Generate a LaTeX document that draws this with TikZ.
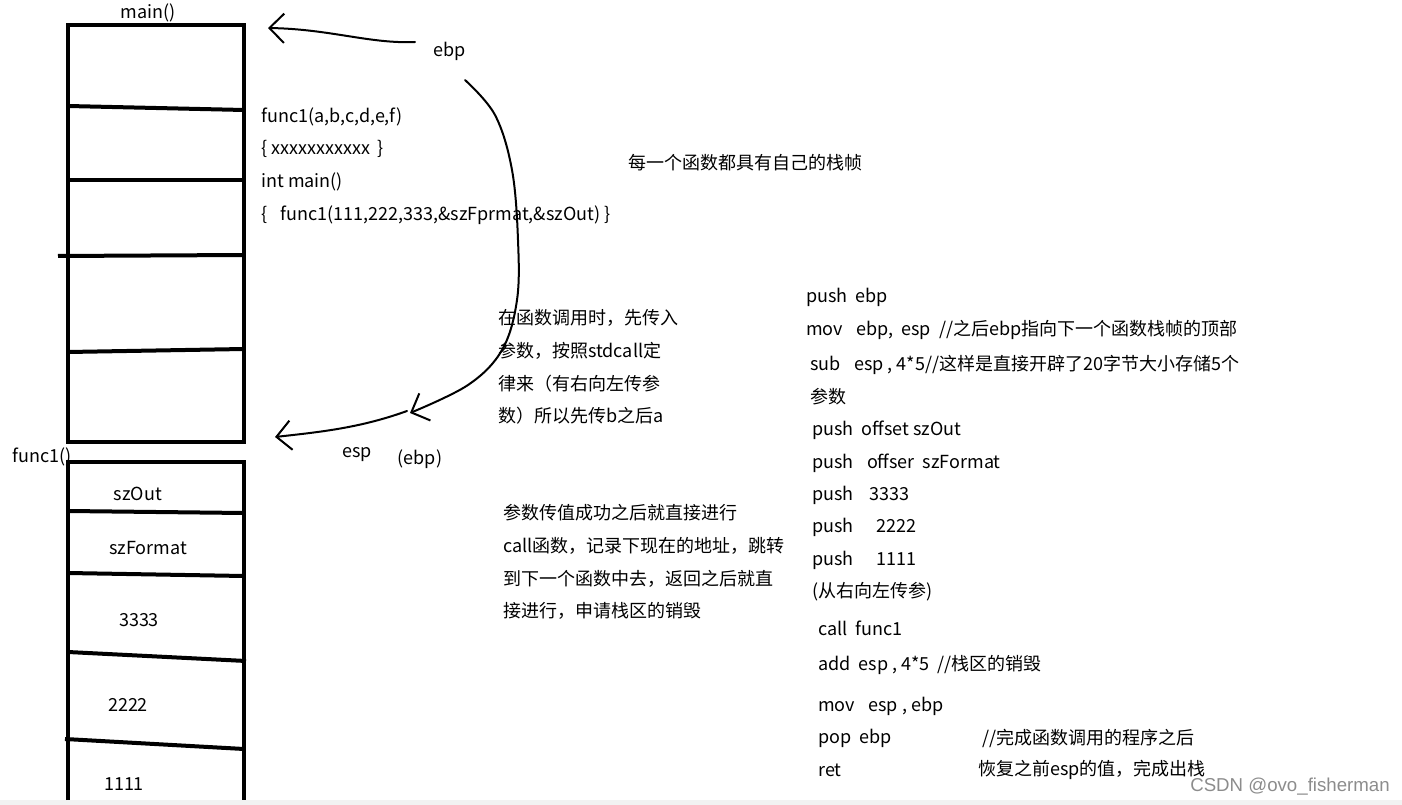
\documentclass[tikz,border=0pt]{standalone}
\usepackage{fontspec}
\setmainfont{Noto Sans CJK SC}
\newfontfamily\wmfont{Liberation Sans}
\usetikzlibrary{arrows.meta}
\newcommand\gapx[1]{\hspace*{#1pt}}
\tikzset{
  frame/.style={line width=3pt},
  txt/.style={anchor=west, inner sep=0pt, font=\fontsize{13.5}{15}\selectfont},
  para/.style={txt, align=left, font=\fontsize{13.5}{24.6}\selectfont},
  pen/.style={line width=1.5pt, line cap=round},
  hand/.style={pen, -{Straight Barb[length=11pt, width=22pt, line width=1.5pt]}},
}
\begin{document}
\begin{tikzpicture}[x=0.75pt, y=-0.75pt]
\useasboundingbox (0,0) rectangle (1402,805);
\fill[black!5] (0,800) rectangle (1402,805);

\node[txt, anchor=center] (mainlbl) at (148,13) {main()};
\node[txt, anchor=center] (funclbl) at (42,457) {func1()};

\draw[frame] (68,25) rectangle (244,442);
\draw[frame] (68,106) -- (244,110);
\draw[frame] (68,180) -- (244,180);
\draw[frame] (58,256) -- (244,255);
\draw[frame] (68,352) -- (244,349);

\draw[frame] (68,800) |- (244,462) -- (244,800);
\draw[frame] (68,511) -- (244,513);
\draw[frame] (68,573) -- (244,576);
\draw[frame] (68,652) -- (246,661);
\draw[frame] (65,739) -- (244,749);

\node[txt, anchor=center] (szout) at (138,494) {szOut};
\node[txt, anchor=center] (szfmt) at (148,548) {szFormat};
\node[txt, anchor=center] (v3) at (139,620) {3333};
\node[txt, anchor=center] (v2) at (128,705) {2222};
\node[txt, anchor=center] (v1) at (124,784) {1111};

\node[txt] (c1) at (261,117) {func1(a,b,c,d,e,f)};
\node[txt] (c2) at (261,149) {\{ xxxxxxxxxxx\gapx{6}\}};
\node[txt] (c3) at (261,182) {int main()};
\node[txt] (c4) at (261,215) {\{\gapx{10}func1(111,222,333,\&szFprmat,\&szOut) \}};

\node[txt, anchor=center] (ebp) at (450,51) {ebp};
\node[txt, anchor=center] (esp) at (357,455) {esp};
\node[txt, anchor=center] (ebp2) at (420,459) {(ebp)};

\coordinate (mainTop) at (268,28);
\coordinate (espTop) at (275,437);
\coordinate (newTop) at (410,413);

\draw[hand] ([shift={(-35,-9)}]ebp.center) .. controls (370,44) and (330,29) .. (mainTop);
\draw[hand] plot[smooth, tension=0.6] coordinates {([shift={(15,29)}]ebp.center) (495,115) (512,170) (518,240) (517,300) (502,350) (468,385) (newTop)};
\draw[hand] ([shift={(-3,-2)}]newTop) .. controls (360,428) and (320,432) .. (espTop);

\node[para] (note1) at (498,367) {在函数调用时，先传入\\参数，按照stdcall定\\律来（有右向左传参\\数）所以先传b之后a};
\node[para] (note2) at (503,562) {参数传值成功之后就直接进行\\call函数，记录下现在的地址，跳转\\到下一个函数中去，返回之后就直\\接进行，申请栈区的销毁};
\node[txt] (title) at (628,163) {每一个函数都具有自己的栈帧};

\node[txt] (a1) at (806,297) {push\gapx{6}ebp};
\node[txt] (a2) at (806,330) {mov\gapx{10}ebp,\gapx{6}esp\gapx{6}//之后ebp指向下一个函数栈帧的顶部};
\node[txt] (a3) at (810,365) {sub\gapx{10}esp , 4*5//这样是直接开辟了20字节大小存储5个};
\node[txt] (a4) at (810,397) {参数};
\node[txt] (a5) at (812,430) {push\gapx{6}offset szOut};
\node[txt] (a6) at (812,463) {push\gapx{10}offser\gapx{6}szFormat};
\node[txt] (a7) at (812,495) {push\gapx{12}3333};
\node[txt] (a8) at (812,527) {push\gapx{17}2222};
\node[txt] (a9) at (812,560) {push\gapx{17}1111};
\node[txt] (a10) at (812,592) {(从右向左传参)};
\node[txt] (a11) at (818,628) {call\gapx{6}func1};
\node[txt] (a12) at (818,665) {add\gapx{6}esp , 4*5\gapx{6}//栈区的销毁};
\node[txt] (a13) at (818,706) {mov\gapx{10}esp , ebp};
\node[txt] (a14) at (818,738) {pop\gapx{6}ebp};
\node[txt] (a14c) at (982,738) {//完成函数调用的程序之后};
\node[txt] (a15) at (818,770) {ret};
\node[txt] (a15c) at (978,770) {恢复之前esp的值，完成出栈};

\node[txt, anchor=east, text=black!45, font=\wmfont\fontsize{14}{16}\selectfont] (wm) at (1390,787) {CSDN @ovo\_fisherman};
\end{tikzpicture}
\end{document}
